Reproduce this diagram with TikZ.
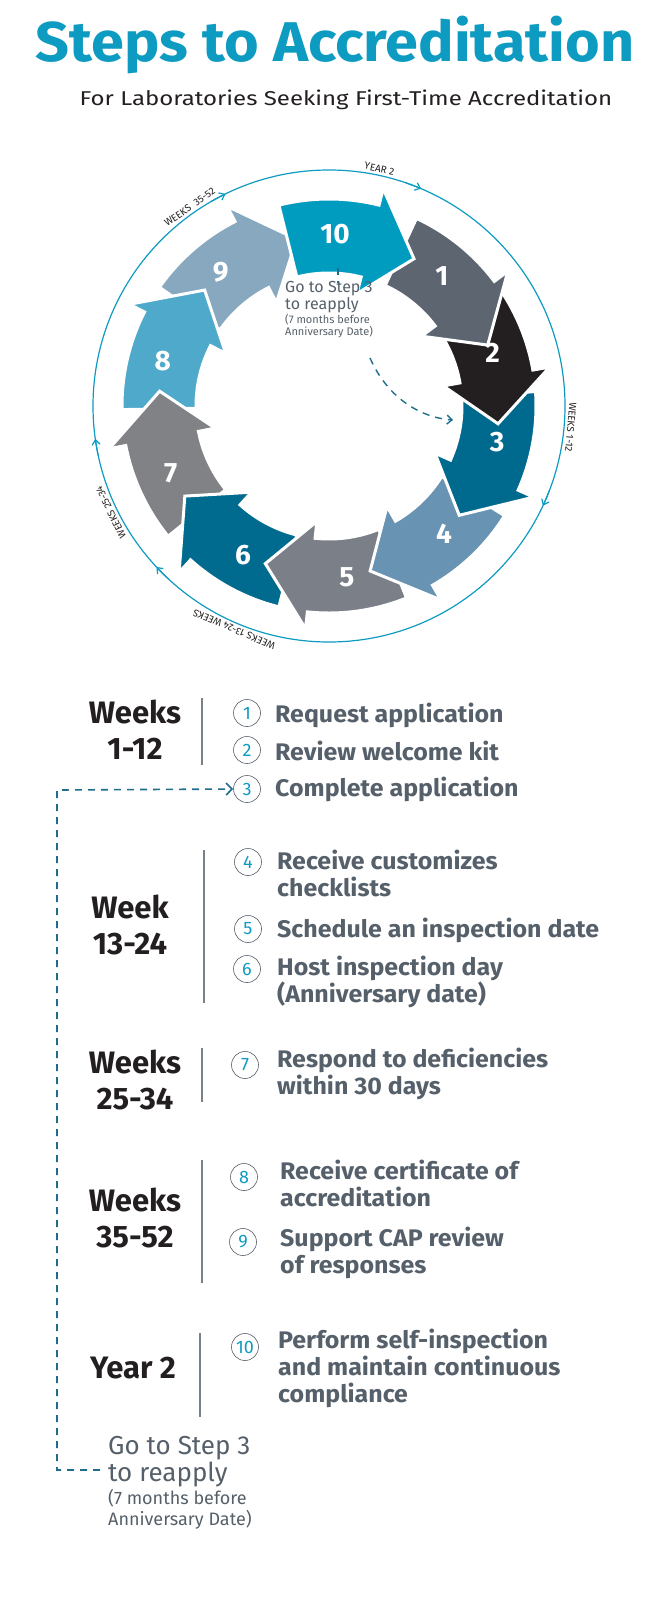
\documentclass[tikz,border=0pt]{standalone}
\usepackage{fontspec}
\setmainfont{Fira Sans}
\usetikzlibrary{arrows.meta}
\definecolor{ttl}{HTML}{0E9BC1}
\definecolor{gtx}{HTML}{56606A}
\definecolor{blk}{HTML}{231F20}
\definecolor{dsh}{HTML}{1E6D8C}
\definecolor{cA}{HTML}{5D6670}
\definecolor{cB}{HTML}{231F20}
\definecolor{cC}{HTML}{006A8E}
\definecolor{cD}{HTML}{6893B2}
\definecolor{cE}{HTML}{7B8088}
\definecolor{cF}{HTML}{006B8F}
\definecolor{cG}{HTML}{808285}
\definecolor{cH}{HTML}{4EA9CB}
\definecolor{cI}{HTML}{88A8C0}
\definecolor{cJ}{HTML}{009CC0}
\newcommand{\ringarrow}[2]{%
  \path[fill=#2,draw=white,line width=3pt,line join=miter]
   (#1+20:133) -- (#1+20:207) arc[start angle=#1+20,end angle=#1-8,radius=207]
   -- (#1-8:224) -- (#1-24:170) -- (#1-8:116) -- (#1-8:133)
   arc[start angle=#1-8,end angle=#1+20,radius=133] -- cycle;}
\newcommand{\ringnum}[2]{%
  \node[font=\bfseries\fontsize{28}{28}\selectfont,text=white] (n#2) at (#1+4:172) {#2};}
\tikzset{
  lbl/.style={font=\fontsize{10}{10}\selectfont,text=blk,anchor=south,inner sep=1pt},
  wk/.style={font=\bfseries\fontsize{31}{36}\selectfont,text=blk,align=center},
  it/.style={font=\bfseries\fontsize{24}{27}\selectfont,text=gtx,align=left,anchor=west,inner sep=0pt,xscale=1.04},
  num/.style={circle,draw=gtx,line width=0.6pt,minimum size=27pt,inner sep=0pt,text=ttl,font=\fontsize{18}{18}\selectfont},
  vl/.style={draw=gtx!80,line width=1.2pt},
  dl/.style={draw=dsh,line width=1.6pt,dash pattern=on 7pt off 6pt}
}
\begin{document}
\begin{tikzpicture}[x=1pt,y=1pt]
\node[text=ttl,font=\bfseries\fontsize{56}{56}\selectfont,xscale=1.06] (title) at (335,-45) {Steps to Accreditation};
\node[text=blk,font=\fontsize{20}{20}\selectfont,xscale=1.2] (sub) at (346,-100) {For Laboratories Seeking First-Time Accreditation};
\begin{scope}[shift={(329,-406)}]
  \draw[ttl,line width=1.2pt] (0,0) circle[radius=236];
  \foreach \t in {67,-25,-137,-172,116}
    \draw[ttl,line width=1.2pt,-{Straight Barb[length=5pt,width=8pt]}] (\t+4:236) arc[start angle=\t+4,end angle=\t,radius=236];
  \node[lbl,rotate=-12] (y2) at (78:238) {YEAR 2};
  \node[lbl,rotate=35] (w35) at (125:238) {WEEKS\ \ 35-52};
  \node[lbl,rotate=-95] (w1) at (-5:238) {WEEKS 1-12};
  \node[lbl,rotate=157] (w13) at (-113:238) {WEEKS 13-24 WEEKS};
  \node[lbl,rotate=116] (w25) at (-154:238) {WEEKS 25-34};
  \ringarrow{-235}{cI}
  \ringarrow{-199}{cH}
  \ringarrow{-161}{cG}
  \ringarrow{-124}{cF}
  \ringarrow{-88}{cE}
  \ringarrow{-52}{cD}
  \ringarrow{-16}{cC}
  \ringarrow{18}{cB}
  \ringarrow{45}{cA}
  \ringarrow{84}{cJ}
  \ringnum{-235}{9}
  \ringnum{-199}{8}
  \ringnum{-161}{7}
  \ringnum{-124}{6}
  \ringnum{-88}{5}
  \ringnum{-52}{4}
  \ringnum{-16}{3}
  \ringnum{14}{2}
  \ringnum{45}{1}
  \ringnum{84}{10}
  \node[text=gtx,align=left,anchor=north west,inner sep=0pt,font=\fontsize{16}{17}\selectfont] (go) at (-44,125)
    {Go to Step 3\\to reapply\\[-3pt]{\fontsize{11}{12}\selectfont (7 months before}\\[-5pt]{\fontsize{11}{12}\selectfont Anniversary Date)}};
  \coordinate (gs) at (9,138);
  \coordinate (ge) at (124,-14);
  \draw[dl,line width=1.4pt] (gs) -- (9,123);
  \draw[dl,line width=1.4pt,-{Straight Barb[length=5pt,width=9pt]}] (41,48) .. controls (60,5) and (95,-12) .. (ge);
\end{scope}
% list
\node[wk] (g1) at (135,-730) {Weeks\\1-12};
\draw[vl] (202,-698) -- (202,-765);
\node[num] (c1) at (247,-713) {1}; \node[it] (t1) at (275,-715) {Request application};
\node[num] (c2) at (247,-750) {2}; \node[it] (t2) at (275,-751) {Review welcome kit};
\node[num] (c3) at (247,-789) {3}; \node[it] (t3) at (275,-789) {Complete application};
\node[wk] (g2) at (130,-925) {Week\\13-24};
\draw[vl] (204,-850) -- (204,-1003);
\node[num] (c4) at (248,-862) {4}; \node[it,anchor=north west] (t4) at (277,-850) {Receive customizes\\checklists};
\node[num] (c5) at (248,-929) {5}; \node[it] (t5) at (277,-930) {Schedule an inspection date};
\node[num] (c6) at (247,-969) {6}; \node[it,anchor=north west] (t6) at (277,-956) {Host inspection day\\(Anniversary date)};
\node[wk] (g3) at (135,-1080) {Weeks\\25-34};
\draw[vl] (202,-1048) -- (202,-1102);
\node[num] (c7) at (245,-1065) {7}; \node[it,anchor=north west] (t7) at (277,-1048) {Respond to deficiencies\\within 30 days};
\node[wk] (g4) at (135,-1218) {Weeks\\35-52};
\draw[vl] (202,-1160) -- (202,-1283);
\node[num] (c8) at (244,-1177) {8}; \node[it,anchor=north west] (t8) at (280,-1160) {Receive certificate of\\accreditation};
\node[num] (c9) at (243,-1242) {9}; \node[it,anchor=north west] (t9) at (280,-1227) {Support CAP review\\of responses};
\node[wk] (g5) at (133,-1368) {Year 2};
\draw[vl] (200,-1333) -- (200,-1417);
\node[num] (c10) at (245,-1347) {10}; \node[it,anchor=north west] (t10) at (278,-1329) {Perform self-inspection\\and maintain continuous\\compliance};
\node[text=gtx,align=left,anchor=north west,inner sep=0pt,font=\fontsize{26}{27}\selectfont] (go2) at (108,-1436)
  {Go to Step 3\\to reapply\\[-4pt]{\fontsize{18}{22}\selectfont (7 months before}\\[-6pt]{\fontsize{18}{22}\selectfont Anniversary Date)}};
\coordinate (d0) at (100,-1470);
\coordinate (d1) at (57,-1470);
\coordinate (d2) at (57,-790);
\draw[dl,-{Straight Barb[length=6pt,width=12pt]}] (d0) -- (d1) -- (d2) -- (c3.west);
\pgfresetboundingbox
\useasboundingbox (0,0) rectangle (650,-1617);
\end{tikzpicture}
\end{document}
